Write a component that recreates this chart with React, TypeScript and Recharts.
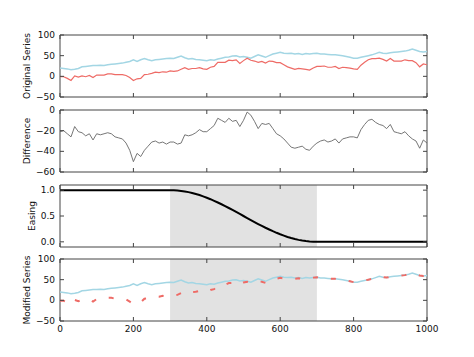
import React from 'react';
import { LineChart, Line, XAxis, YAxis, ReferenceArea, ReferenceLine } from 'recharts';

// x grid (step 10, 0..1000)
const X_VALUES: number[] = Array.from({ length: 101 }, (_, i) => i * 10);
const X_TICKS = [0, 200, 400, 600, 800, 1000];

// Blue (light blue) original series, read every 10 steps
const BLUE = [
  20, 19, 18, 16, 17, 19, 23, 24, 25, 26,
  26, 27, 26, 28, 29, 30, 31, 32, 34, 36,
  40, 36, 40, 43, 40, 38, 40, 41, 42, 43,
  44, 43, 46, 49, 45, 42, 43, 41, 40, 39,
  38, 40, 39, 42, 44, 46, 47, 49, 50, 47,
  48, 46, 44, 48, 52, 49, 46, 50, 54, 56,
  58, 56, 55, 56, 54, 55, 53, 55, 54, 55,
  56, 54, 54, 53, 52, 52, 51, 50, 48, 46,
  44, 44, 46, 48, 50, 52, 55, 58, 56, 55,
  57, 58, 59, 60, 61, 63, 66, 63, 60, 59,
  60,
];

// Difference (red - blue), read every 10 steps
const DIFF = [
  -21, -20, -23, -26, -16, -21, -22, -25, -23, -29,
  -23, -24, -23, -22, -23, -26, -27, -28, -32, -39,
  -50, -42, -45, -39, -35, -31, -30, -32, -31, -33,
  -31, -31, -33, -32, -24, -25, -24, -22, -19, -21,
  -21, -18, -15, -8, -10, -12, -8, -11, -10, -16,
  -10, -2, -5, -11, -18, -13, -14, -13, -18, -23,
  -25, -28, -32, -36, -37, -36, -35, -38, -39, -35,
  -32, -30, -29, -31, -30, -28, -32, -28, -27, -26,
  -26, -27, -19, -14, -10, -9, -12, -14, -15, -18,
  -14, -21, -22, -23, -21, -25, -28, -30, -37, -29,
  -32,
];

// Easing weights between 300 and 700 (step 10)
const EASE_MID = [
  1.0, 0.998, 0.994, 0.986, 0.976, 0.962, 0.946, 0.926, 0.905, 0.880,
  0.854, 0.825, 0.794, 0.761, 0.727, 0.691, 0.655, 0.617, 0.578, 0.539,
  0.5, 0.461, 0.422, 0.383, 0.345, 0.309, 0.273, 0.239, 0.206, 0.175,
  0.146, 0.120, 0.095, 0.074, 0.055, 0.038, 0.024, 0.014, 0.006, 0.002,
  0.0,
];
const EASE: number[] = [
  ...new Array(30).fill(1),
  ...EASE_MID,
  ...new Array(30).fill(0),
];

const Y1_TICKS = [-50, 0, 50, 100];
const Y2_TICKS = [-60, -40, -20, 0];
const Y3_TICKS = [0, 0.5, 1.0];

const data = X_VALUES.map((x, i) => {
  const blue = BLUE[i];
  const diff = DIFF[i];
  const red = blue + diff;
  const ease = EASE[i];
  return { x, blue, red, diff, ease, modRed: blue + diff * ease };
});

const FONT = '"DejaVu Sans", sans-serif';
const AXIS = '#444';
const TXT = '#111';
const FS = 9;
const TICK_PX = 4;
const PLOT_W = 367;
const PLOT_H = 62;
const X_DOMAIN: [number, number] = [0, 1000];

const fmtInt = (v: number) => (v < 0 ? '\u2212' + Math.abs(v) : String(v));
const fmt1 = (v: number) => (v < 0 ? '\u2212' + Math.abs(v).toFixed(1) : v.toFixed(1));

const makeLeftTick = (fmt: (v: number) => string) => (p: any) => {
  const { x, y, payload } = p;
  return (
    <text x={x - 5} y={y} textAnchor="end" dominantBaseline="central" fontSize={FS} fontFamily={FONT} fill={TXT}>
      {fmt(payload.value)}
    </text>
  );
};
const bottomTick = (p: any) => {
  const { x, y, payload } = p;
  return (
    <text x={x} y={y + 5} textAnchor="middle" dominantBaseline="hanging" fontSize={FS} fontFamily={FONT} fill={TXT}>
      {String(payload.value)}
    </text>
  );
};

function tickMarks(yDomain: [number, number], yTicks: number[]) {
  const dx = ((X_DOMAIN[1] - X_DOMAIN[0]) * TICK_PX) / PLOT_W;
  const dy = ((yDomain[1] - yDomain[0]) * TICK_PX) / PLOT_H;
  const out: React.ReactNode[] = [];
  X_TICKS.forEach((t, i) => {
    out.push(
      <ReferenceLine key={'xb' + i} segment={[{ x: t, y: yDomain[0] }, { x: t, y: yDomain[0] + dy }]} stroke={AXIS} strokeWidth={1} ifOverflow="visible" />,
      <ReferenceLine key={'xt' + i} segment={[{ x: t, y: yDomain[1] }, { x: t, y: yDomain[1] - dy }]} stroke={AXIS} strokeWidth={1} ifOverflow="visible" />
    );
  });
  yTicks.forEach((t, i) => {
    out.push(
      <ReferenceLine key={'yl' + i} segment={[{ x: X_DOMAIN[0], y: t }, { x: X_DOMAIN[0] + dx, y: t }]} stroke={AXIS} strokeWidth={1} ifOverflow="visible" />,
      <ReferenceLine key={'yr' + i} segment={[{ x: X_DOMAIN[1], y: t }, { x: X_DOMAIN[1] - dx, y: t }]} stroke={AXIS} strokeWidth={1} ifOverflow="visible" />
    );
  });
  return out;
}

function Panel(props: {
  top: number;
  yDomain: [number, number];
  yTicks: number[];
  fmt: (v: number) => string;
  label: string;
  labelX: number;
  showX?: boolean;
  children: React.ReactNode;
}) {
  const { top, yDomain, yTicks, fmt, label, labelX, showX, children } = props;
  const bottomH = showX ? 20 : 0;
  const mb = showX ? 4 : 8;
  const height = 8 + PLOT_H + bottomH + mb;
  return (
    <div style={{ position: 'absolute', left: 0, top: top - 8 }}>
      <LineChart
        width={474}
        height={height}
        data={data}
        margin={{ top: 8, right: 47, bottom: mb, left: 20 }}
      >
        <XAxis
          dataKey="x"
          type="number"
          domain={X_DOMAIN}
          allowDataOverflow
          ticks={X_TICKS}
          interval={0}
          height={bottomH}
          tickSize={0}
          tickMargin={0}
          tickLine={false}
          axisLine={false}
          tick={showX ? bottomTick : false}
        />
        <YAxis
          type="number"
          domain={yDomain}
          allowDataOverflow
          ticks={yTicks}
          interval={0}
          width={40}
          tickSize={0}
          tickMargin={0}
          tickLine={false}
          axisLine={false}
          tick={makeLeftTick(fmt)}
          label={(p: any) => {
            const vb = p.viewBox || { x: 20, y: 8, width: 40, height: PLOT_H };
            const cy = vb.y + vb.height / 2;
            return (
              <text
                x={labelX}
                y={cy}
                transform={`rotate(-90, ${labelX}, ${cy})`}
                textAnchor="middle"
                dominantBaseline="central"
                fontSize={FS}
                fontFamily={FONT}
                fill={TXT}
              >
                {label}
              </text>
            );
          }}
        />
        {children}
        {tickMarks(yDomain, yTicks)}
        <ReferenceArea
          x1={X_DOMAIN[0]}
          x2={X_DOMAIN[1]}
          y1={yDomain[0]}
          y2={yDomain[1]}
          fill="none"
          fillOpacity={0}
          stroke={AXIS}
          strokeWidth={1}
          ifOverflow="visible"
        />
      </LineChart>
    </div>
  );
}

export default function App() {
  return (
    <div
      style={{
        position: 'absolute',
        left: 0,
        top: 0,
        width: 474,
        height: 357,
        background: '#fff',
        fontFamily: FONT,
      }}
    >
      <Panel top={35} yDomain={[-50, 100]} yTicks={Y1_TICKS} fmt={fmtInt} label="Original Series" labelX={27}>
        <Line dataKey="blue" stroke="#a3d6e4" strokeWidth={1.5} dot={false} isAnimationActive={false} />
        <Line dataKey="red" stroke="#ee6b66" strokeWidth={1.2} dot={false} isAnimationActive={false} />
      </Panel>
      <Panel top={110} yDomain={[-60, 0]} yTicks={Y2_TICKS} fmt={fmtInt} label="Difference" labelX={27}>
        <Line dataKey="diff" stroke="#666" strokeWidth={0.9} dot={false} isAnimationActive={false} />
      </Panel>
      <Panel top={185} yDomain={[-0.1, 1.1]} yTicks={Y3_TICKS} fmt={fmt1} label="Easing" labelX={32}>
        <ReferenceArea x1={300} x2={700} fill="#e2e2e2" fillOpacity={1} stroke="none" ifOverflow="hidden" />
        <Line dataKey="ease" stroke="#000" strokeWidth={2} dot={false} isAnimationActive={false} />
      </Panel>
      <Panel top={259} yDomain={[-50, 100]} yTicks={Y1_TICKS} fmt={fmtInt} label="Modified Series" labelX={27} showX>
        <ReferenceArea x1={300} x2={700} fill="#e2e2e2" fillOpacity={1} stroke="none" ifOverflow="hidden" />
        <Line dataKey="blue" stroke="#a3d6e4" strokeWidth={1.5} dot={false} isAnimationActive={false} />
        <Line dataKey="modRed" stroke="#ee6b66" strokeWidth={2} strokeDasharray="5 13" dot={false} isAnimationActive={false} />
      </Panel>
    </div>
  );
}
